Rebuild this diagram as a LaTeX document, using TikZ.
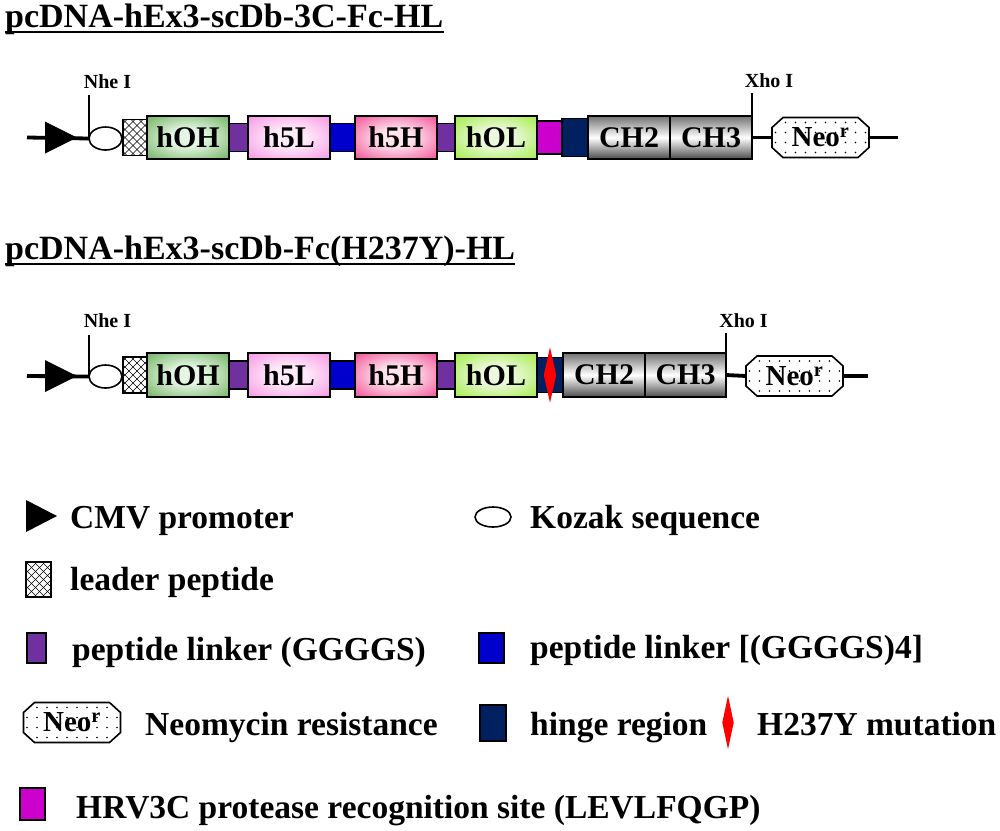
\documentclass[tikz,border=0pt]{standalone}
\usepackage{fontspec}
\setmainfont{Liberation Serif}
\usetikzlibrary{calc,shapes.geometric}
\definecolor{purp}{HTML}{7030A0}
\definecolor{blu}{HTML}{0000CC}
\definecolor{mag}{HTML}{CC00CC}
\definecolor{navyc}{HTML}{002060}
\definecolor{gOut}{RGB}{95,165,75}
\definecolor{gIn}{RGB}{228,247,228}
\definecolor{pOut}{RGB}{245,135,225}
\definecolor{pIn}{RGB}{255,236,250}
\definecolor{rOut}{RGB}{238,55,135}
\definecolor{rIn}{RGB}{255,228,238}
\definecolor{lOut}{RGB}{150,235,45}
\definecolor{lIn}{RGB}{236,248,222}
\pgfdeclareradialshading{shG}{\pgfpoint{0bp}{0bp}}{color(0bp)=(gIn); color(10bp)=(gIn); color(40bp)=(gOut); color(75bp)=(gOut)}
\pgfdeclareradialshading{shP}{\pgfpoint{0bp}{0bp}}{color(0bp)=(pIn); color(10bp)=(pIn); color(40bp)=(pOut); color(75bp)=(pOut)}
\pgfdeclareradialshading{shR}{\pgfpoint{0bp}{0bp}}{color(0bp)=(rIn); color(10bp)=(rIn); color(40bp)=(rOut); color(75bp)=(rOut)}
\pgfdeclareradialshading{shL}{\pgfpoint{0bp}{0bp}}{color(0bp)=(lIn); color(10bp)=(lIn); color(40bp)=(lOut); color(75bp)=(lOut)}
\newcommand\NeoOct[3]{%
  \begin{scope}
    \clip ({#2-48.5},{#3-10}) -- ({#2-37.5},{#3-20}) -- ({#2+37.5},{#3-20}) -- ({#2+48.5},{#3-10})
      -- ({#2+48.5},{#3+10}) -- ({#2+37.5},{#3+20}) -- ({#2-37.5},{#3+20}) -- ({#2-48.5},{#3+10}) -- cycle;
    \foreach \dx in {-45,-35,...,45} \foreach \dy in {-15,-5,5,15}
      \fill ({#2+\dx},{#3+\dy}) circle (0.9);
  \end{scope}
  \draw[line width=1.6pt] ({#2-48.5},{#3-10}) -- ({#2-37.5},{#3-20}) -- ({#2+37.5},{#3-20}) -- ({#2+48.5},{#3-10})
      -- ({#2+48.5},{#3+10}) -- ({#2+37.5},{#3+20}) -- ({#2-37.5},{#3+20}) -- ({#2-48.5},{#3+10}) -- cycle;
  \node[neolbl] (#1) at (#2,#3) {Neo\textsuperscript{r}};
}
\begin{document}
\begin{tikzpicture}[x=1pt,y=-1pt,
  bb/.style={line width=3.8pt},
  ol/.style={draw=black,line width=1.6pt},
  blk/.style={ol,inner sep=0pt,outer sep=0pt,minimum width=82pt,minimum height=43pt,anchor=west,
    font=\fontsize{30}{32}\selectfont\bfseries},
  chblk/.style={blk,top color=black!55,bottom color=black!70,middle color=white},
  gblk/.style={blk,shade,shading=shG},
  pblk/.style={blk,shade,shading=shP},
  rblk/.style={blk,shade,shading=shR},
  lblk/.style={blk,shade,shading=shL},
  lnk/.style={ol,inner sep=0pt,outer sep=0pt,minimum height=28pt,minimum width=19pt,anchor=west},
  leader/.style={ol,fill=white,inner sep=0pt,outer sep=0pt,minimum width=24pt,minimum height=36pt,anchor=west,
    path picture={\foreach \k in {-48,-40,...,32}{
      \draw[line width=0.6pt] ([xshift=\k pt]path picture bounding box.south west) -- ++(48,-48);
      \draw[line width=0.6pt] ([xshift=\k pt]path picture bounding box.north west) -- ++(48,48);}}},
  kozak/.style={ellipse,ol,fill=white,inner sep=0pt,outer sep=0pt,minimum width=33pt,minimum height=23pt},
  neolbl/.style={inner sep=0pt,minimum width=97pt,minimum height=40pt,font=\fontsize{29}{31}\selectfont\bfseries},
  site/.style={font=\fontsize{20}{22}\selectfont\bfseries,inner sep=0pt,anchor=base},
  ttl/.style={font=\fontsize{34}{40}\selectfont\bfseries,inner sep=0pt,anchor=base west},
  leg/.style={font=\fontsize{33.5}{38}\selectfont\bfseries,inner sep=0pt,anchor=base west},
  tick/.style={line width=1.6pt},
  prom/.style={inner sep=0pt,outer sep=0pt,minimum width=32pt,minimum height=32pt}
]
\useasboundingbox (0,0) rectangle (1000,830);

% ---------- Title 1 ----------
\node[ttl] (t1) at (5,27) {pcDNA-hEx3-scDb-3C-Fc-HL};
\draw[line width=2pt] ([yshift=-5pt]t1.base west) -- ([yshift=-5pt]t1.base east);

% ---------- Construct 1 ----------
\coordinate (s1) at (27,137.5);
\node[prom] (pr1) at (61,137.5) {};
\node[kozak] (kz1) at (105.5,138.5) {};
\draw[bb] (s1) -- (kz1.west);
\fill (pr1.north west) -- (pr1.east) -- (pr1.south west) -- cycle;
\node[leader] (ld1) at (123,137.5) {};
\node[gblk] (hoh1) at (ld1.east) {hOH};
\node[lnk,fill=purp] (pa1) at (hoh1.east) {};
\node[pblk] (h5l1) at (pa1.east) {h5L};
\node[lnk,fill=blu,minimum width=25pt] (bl1) at (h5l1.east) {};
\node[rblk] (h5h1) at (bl1.east) {h5H};
\node[lnk,fill=purp,minimum width=18pt] (pb1) at (h5h1.east) {};
\node[lblk] (hol1) at (pb1.east) {hOL};
\node[lnk,fill=mag,minimum width=25pt,minimum height=33pt] (mg1) at (hol1.east) {};
\node[lnk,fill=navyc,minimum width=26pt,minimum height=38pt] (nv1) at (mg1.east) {};
\node[chblk] (ch21) at (nv1.east) {CH2};
\node[chblk] (ch31) at (ch21.east) {CH3};
\coordinate (nhe1) at (89,95);
\draw[tick] (kz1.west) -- (nhe1);
\node[site] at (107.5,88) {Nhe I};
\coordinate (xho1) at (752,93);
\draw[tick] (ch31.north east) -- (xho1);
\node[site] at (769,87) {Xho I};
\NeoOct{neo1}{820.5}{137.5}
\coordinate (e1) at (898,137.5);
\draw[bb] (ch31.east) -- (neo1.west);
\draw[bb] (neo1.east) -- (e1);

% ---------- Title 2 ----------
\node[ttl] (t2) at (5,259) {pcDNA-hEx3-scDb-Fc(H237Y)-HL};
\draw[line width=2pt] ([yshift=-5pt]t2.base west) -- ([yshift=-5pt]t2.base east);

% ---------- Construct 2 ----------
\coordinate (s2) at (27,376);
\node[prom] (pr2) at (61,376) {};
\node[kozak] (kz2) at (105.5,376.5) {};
\draw[bb] (s2) -- (kz2.west);
\fill (pr2.north west) -- (pr2.east) -- (pr2.south west) -- cycle;
\node[leader] (ld2) at (123,375) {};
\node[gblk,minimum height=44pt] (hoh2) at (ld2.east) {hOH};
\node[lnk,fill=purp] (pa2) at (hoh2.east) {};
\node[pblk,minimum height=44pt] (h5l2) at (pa2.east) {h5L};
\node[lnk,fill=blu,minimum width=25pt] (bl2) at (h5l2.east) {};
\node[rblk,minimum height=44pt] (h5h2) at (bl2.east) {h5H};
\node[lnk,fill=purp,minimum width=18pt] (pb2) at (h5h2.east) {};
\node[lblk,minimum height=44pt] (hol2) at (pb2.east) {hOL};
\node[lnk,fill=navyc,minimum width=26pt,minimum height=35pt] (nv2) at (hol2.east) {};
\node[chblk,minimum height=44pt] (ch22) at (nv2.east) {CH2};
\node[chblk,minimum height=44pt,minimum width=81pt] (ch32) at (ch22.east) {CH3};
\node[inner sep=0pt,minimum width=12pt,minimum height=55pt] (mut2) at (nv2.center) {};
\fill[red] (mut2.north) -- (mut2.east) -- (mut2.south) -- (mut2.west) -- cycle;
\coordinate (nhe2) at (89,335);
\draw[tick] (kz2.west) -- (nhe2);
\node[site] at (107.5,327) {Nhe I};
\coordinate (xho2) at (726,333);
\draw[tick] (ch32.north east) -- (xho2);
\node[site] at (743.5,327) {Xho I};
\NeoOct{neo2}{794.5}{376}
\coordinate (e2) at (868,376);
\draw[bb] (ch32.east) -- (neo2.west);
\draw[bb] (neo2.east) -- (e2);

% ---------- Legend ----------
\node[prom,minimum width=31pt] (lpr) at (41.5,516) {};
\fill (lpr.north west) -- (lpr.east) -- (lpr.south west) -- cycle;
\node[leg] (lt1) at (70,528) {CMV promoter};

\node[kozak,minimum width=36pt,minimum height=20pt] (lkz) at (493,517) {};
\node[leg] (lt2) at (530,528) {Kozak sequence};

\node[leader,minimum width=25pt,minimum height=35pt] (lld) at (26,579.5) {};
\node[leg] (lt3) at (70,590) {leader peptide};

\node[lnk,fill=purp,minimum width=19pt,minimum height=30pt] (lpa) at (27,648) {};
\node[leg] (lt4) at (72,660) {peptide linker (GGGGS)};

\node[lnk,fill=blu,minimum width=25pt,minimum height=30pt] (lbl) at (479,648) {};
\node[leg] (lt5) at (530,658) {peptide linker [(GGGGS)4]};

\NeoOct{lneo}{72}{722.5}
\node[leg] (lt6) at (145,735) {Neomycin resistance};

\node[lnk,fill=navyc,minimum width=26pt,minimum height=36pt] (lnv) at (480,723) {};
\node[leg] (lt7) at (530,735) {hinge region};

\node[inner sep=0pt,minimum width=11pt,minimum height=53pt] (lmut) at (728,722.5) {};
\fill[red] (lmut.north) -- (lmut.east) -- (lmut.south) -- (lmut.west) -- cycle;
\node[leg] (lt8) at (757,735) {H237Y mutation};

\node[lnk,fill=mag,minimum width=25pt,minimum height=32pt] (lmg) at (20,804) {};
\node[leg] (lt9) at (76,818) {HRV3C protease recognition site (LEVLFQGP)};
\end{tikzpicture}
\end{document}
